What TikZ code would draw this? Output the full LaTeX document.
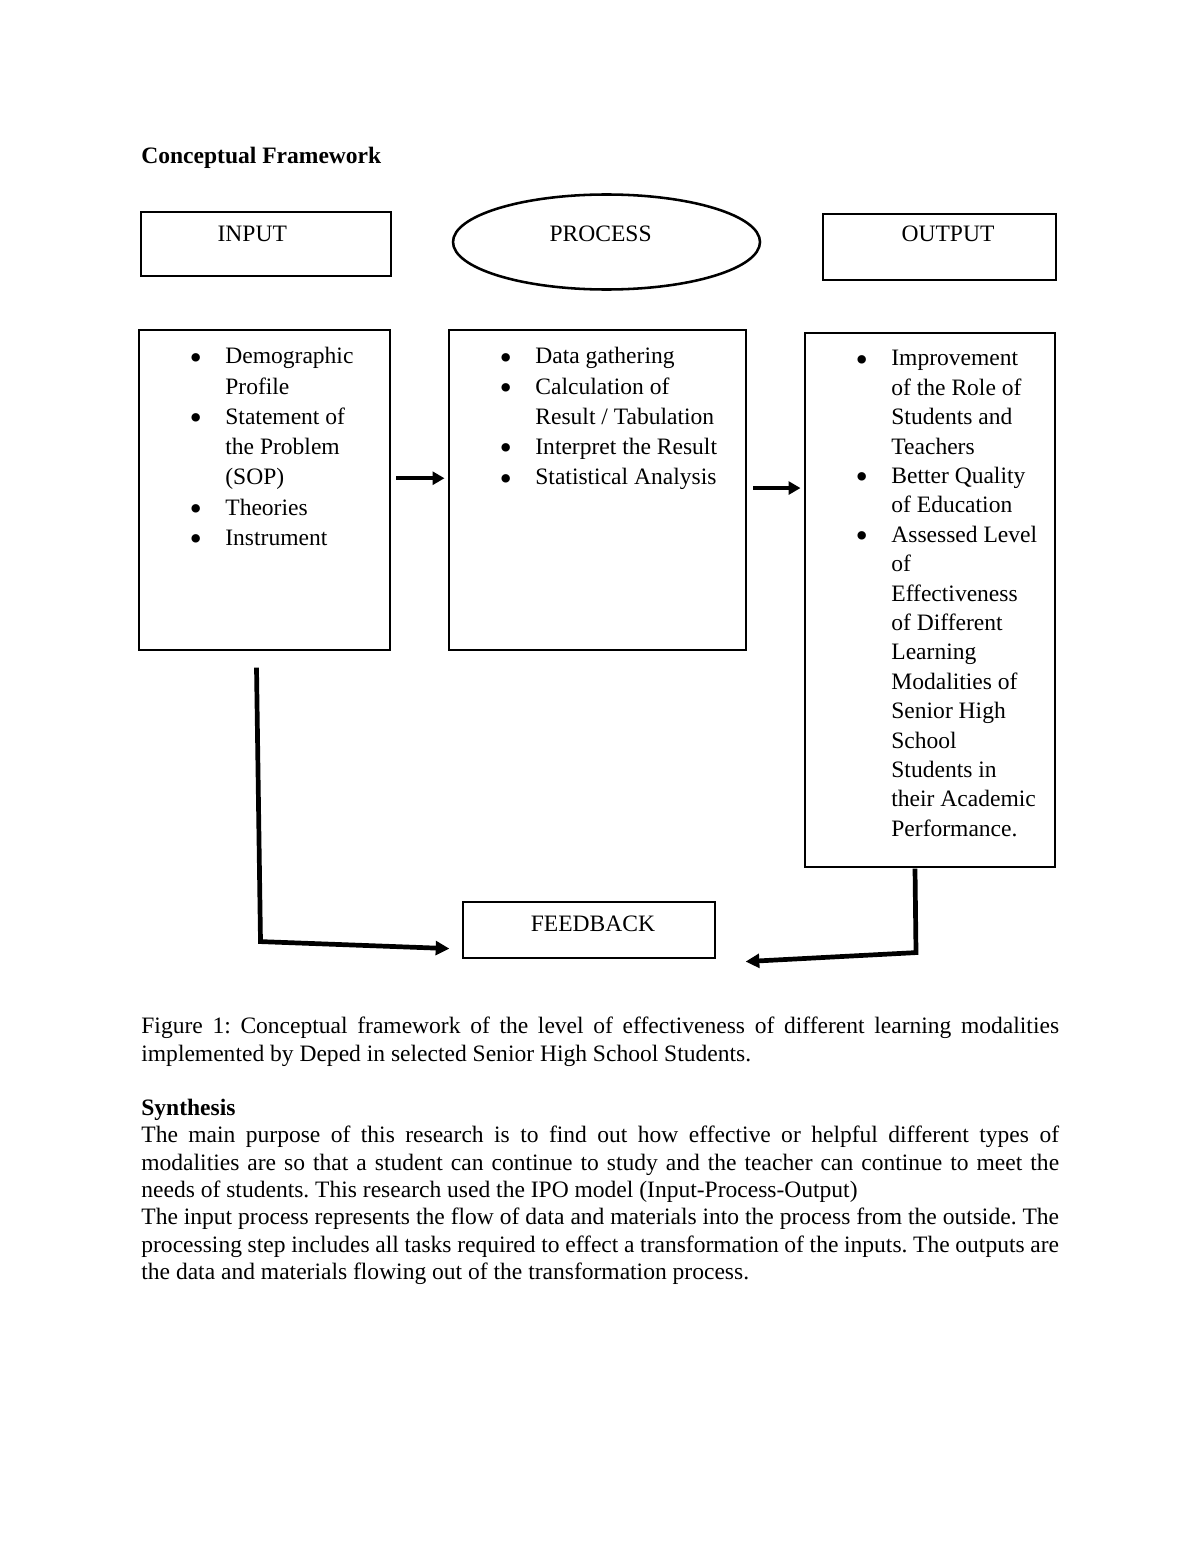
\documentclass[tikz,border=0pt]{standalone}
\usepackage{fontspec}
\setmainfont{Liberation Serif}
\usetikzlibrary{shapes.geometric,arrows.meta,calc}
\newcommand{\pxu}{0.51pt}
\newcommand{\bul}{\llap{\raisebox{-2.7pt}[0pt][0pt]{\fontsize{18}{18}\selectfont\textbullet}\hspace{12pt}}}
\setlength{\parindent}{0pt}
\setlength{\parskip}{0pt}
\frenchspacing

\begin{document}
\begin{tikzpicture}[x=0.51pt, y=-0.51pt, font=\fontsize{12}{14}\selectfont,
    hdbox/.style={draw, line width=0.6pt, inner sep=0pt, text height=7.9pt},
    listbox/.style={draw, line width=0.6pt, inner sep=0pt},
    listtext/.style={anchor=north west, inner sep=0pt, align=left, font=\fontsize{12}{15.45}\selectfont},
    flowarrow/.style={line width=2pt, -{Triangle[length=6pt,width=6.5pt]}},
    fbarrow/.style={line width=2.4pt, -{Triangle[length=7pt,width=7pt]}}]
  \useasboundingbox (0,0) rectangle (1200,1553);
  \node[anchor=base west, inner sep=0pt, font=\fontsize{12}{14}\selectfont\bfseries] (title) at (141,164) {Conceptual Framework};

  % headers
  \node[hdbox, minimum width=250*\pxu, minimum height=64*\pxu, text depth=10.2pt] (inhead) at (266,244) {INPUT\rule{14pt}{0pt}};
  \node[hdbox, ellipse, line width=1.3pt, minimum width=307*\pxu, minimum height=95*\pxu, text depth=8.2pt] (prochead) at (606.5,242) {PROCESS\rule{6pt}{0pt}};
  \node[hdbox, minimum width=233*\pxu, minimum height=66*\pxu, text depth=13.3pt] (outhead) at (939.5,247) {\hspace{8.7pt}OUTPUT};

  % boxes and lists
  \node[listbox, minimum width=251*\pxu, minimum height=320*\pxu] (inbox) at (264.5,490) {};
  \node[listbox, minimum width=297*\pxu, minimum height=320*\pxu] (procbox) at (597.5,490) {};
  \node[listbox, minimum width=250*\pxu, minimum height=534*\pxu] (outbox) at (930,600) {};

  \node[listtext] (inlist) at (225,347) {\bul Demographic\\ Profile\\ \bul Statement of\\ the Problem\\ (SOP)\\ \bul Theories\\ \bul Instrument};
  \node[listtext] (proclist) at (535,347) {\bul Data gathering\\ \bul Calculation of\\ Result / Tabulation\\ \bul Interpret the Result\\ \bul Statistical Analysis};
  \node[listtext, font=\fontsize{12}{15}\selectfont] (outlist) at (891,350) {\bul Improvement\\ of the Role of\\ Students and\\ Teachers\\ \bul Better Quality\\ of Education\\ \bul Assessed Level\\ of\\ Effectiveness\\ of Different\\ Learning\\ Modalities of\\ Senior High\\ School\\ Students in\\ their Academic\\ Performance.};

  \node[hdbox, minimum width=252*\pxu, minimum height=56*\pxu, text depth=6.1pt] (fback) at (589,930) {\hspace{4pt}FEEDBACK};

  % arrows
  \draw[flowarrow, shorten <=3pt, shorten >=2pt] ([yshift=6pt]inbox.east) -- ([yshift=6pt]inbox.east -| procbox.west);
  \draw[flowarrow, shorten <=3.5pt, shorten >=2pt] ([yshift=1pt]procbox.east) -- ([yshift=1pt]procbox.east -| outbox.west);
  \draw[fbarrow] ($(inbox.south)+(-8,17)$) -- ($(inbox.south)+(-4,291)$) -- ($(fback.south west)+(-13,-10)$);
  \draw[fbarrow] ($(outbox.south)+(-15,1)$) -- ($(outbox.south)+(-14,85)$) -- ($(fback.south east)+(30,3)$);

  % caption and synthesis
  \node[anchor=north west, inner sep=0pt, text width=468pt, align=justify, font=\fontsize{12}{13.9}\selectfont] (caption) at (141,1017) {Figure 1: Conceptual framework of the level of effectiveness of different learning modalities\linebreak implemented by Deped in selected Senior High School Students.\par\vskip13.9pt
  \textbf{Synthesis}\par
  The main purpose of this research is to find out how effective or helpful different types of\linebreak modalities are so that a student can continue to study and the teacher can continue to meet the\linebreak needs of students. This research used the IPO model (Input-Process-Output)\par
  The input process represents the flow of data and materials into the process from the outside. The\linebreak processing step includes all tasks required to effect a transformation of the inputs. The outputs are\linebreak the data and materials flowing out of the transformation process.};
\end{tikzpicture}
\end{document}
